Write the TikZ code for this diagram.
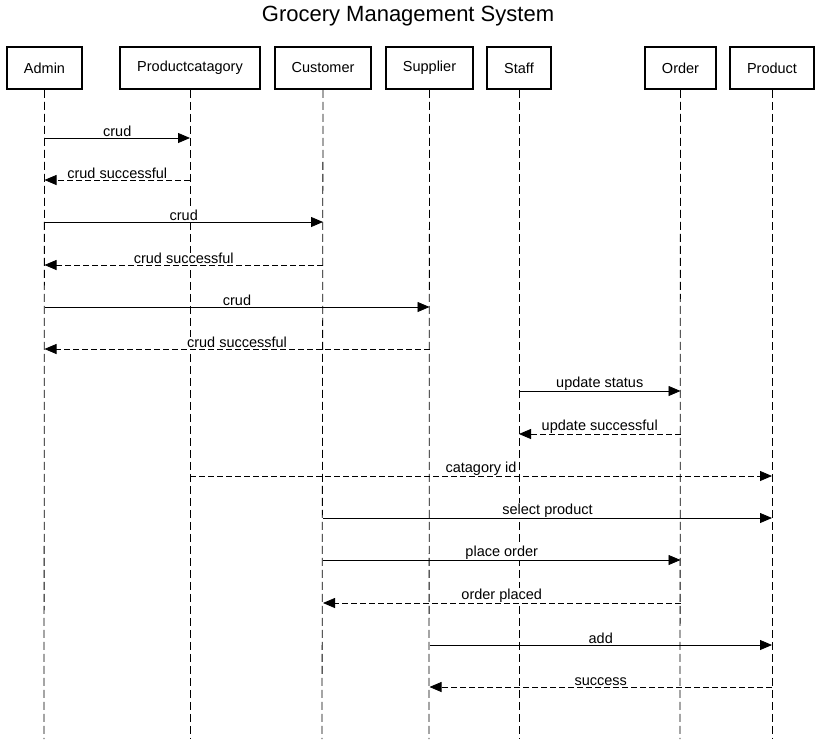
\documentclass[tikz,border=0pt]{standalone}
\usepackage{fontspec}
\setmainfont{Liberation Sans}
\usetikzlibrary{arrows.meta}
\begin{document}
\begin{tikzpicture}[x=1pt,y=-1pt,
  actor/.style={draw,line width=1.5pt,minimum height=42pt,inner sep=0pt,font=\fontsize{14.5}{16}\selectfont},
  life/.style={dash pattern=on 8pt off 4pt,line width=0.8pt},
  msg/.style={-{Triangle[length=12pt,width=10pt]},line width=0.8pt},
  ret/.style={msg,dash pattern=on 6pt off 3pt},
  lbl/.style={fill=white,inner sep=0.5pt,font=\fontsize{14.5}{16}\selectfont,above=0pt}]
\useasboundingbox (0,0) rectangle (821,739);
\node[font=\fontsize{22}{26}\selectfont] (title) at (408,16) {Grocery Management System};
\node[actor,minimum width=75pt] (A) at (44.5,68) {Admin};
\node[actor,minimum width=140pt] (P) at (190,68) {Productcatagory};
\node[actor,minimum width=96pt] (C) at (323,68) {Customer};
\node[actor,minimum width=87pt] (S) at (429.5,68) {Supplier};
\node[actor,minimum width=64pt] (T) at (519,68) {Staff};
\node[actor,minimum width=71pt] (O) at (680.5,68) {Order};
\node[actor,minimum width=84pt] (R) at (772,68) {Product};
\foreach \n/\x in {A/44,P/190,C/322,S/429,T/519,O/680,R/772}{
  \coordinate (\n e) at (\x,739);
  \draw[life] (\n.south) -- (\n e);}
\newcommand{\mymsg}[5]{%
  \coordinate (m1) at (#2.south |- 0,#4);
  \coordinate (m2) at (#3.south |- 0,#4);
  \draw[#1] (m1) -- node[lbl] {#5} (m2);}
\mymsg{msg}{A}{P}{138}{crud}
\mymsg{ret}{P}{A}{180}{crud successful}
\mymsg{msg}{A}{C}{222}{crud}
\mymsg{ret}{C}{A}{265}{crud successful}
\mymsg{msg}{A}{S}{307}{crud}
\mymsg{ret}{S}{A}{349}{crud successful}
\mymsg{msg}{T}{O}{391}{update status}
\mymsg{ret}{O}{T}{434}{update successful}
\mymsg{ret}{P}{R}{476}{catagory id}
\mymsg{msg}{C}{R}{518}{select product}
\mymsg{msg}{C}{O}{560}{place order}
\mymsg{ret}{O}{C}{603}{order placed}
\mymsg{msg}{S}{R}{645}{add}
\mymsg{ret}{R}{S}{687}{success}
\end{tikzpicture}
\end{document}
